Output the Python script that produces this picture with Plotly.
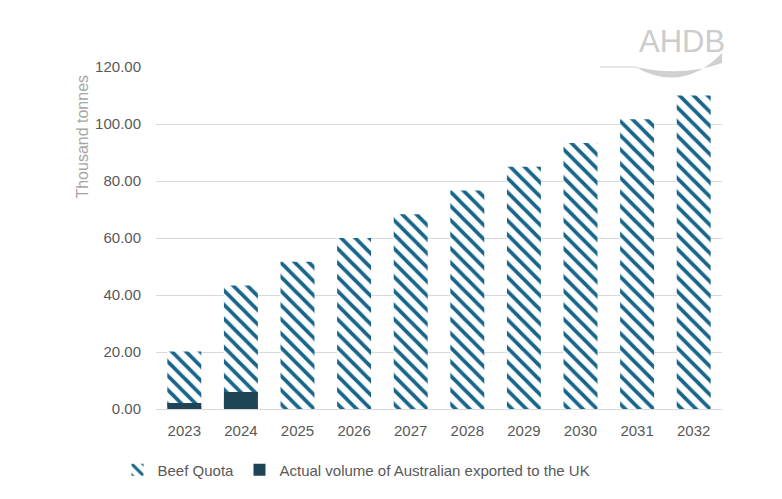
import plotly.graph_objects as go

years = ["2023", "2024", "2025", "2026", "2027", "2028", "2029", "2030", "2031", "2032"]
beef_quota = [20.2, 43.33, 51.67, 60.0, 68.33, 76.67, 85.0, 93.33, 101.67, 110.0]
actual_volume = [2.1, 6.0, None, None, None, None, None, None, None, None]

fig = go.Figure()
fig.add_trace(go.Bar(
    x=years, y=beef_quota, name="Beef Quota", legend="legend",
    marker=dict(color="white", line=dict(width=0),
                pattern=dict(shape="\\", fgcolor="#17658A", bgcolor="white",
                             size=10, solidity=0.38, fillmode="replace")),
))
fig.add_trace(go.Bar(
    x=years, y=actual_volume, name="Actual volume of Australian exported to the UK",
    legend="legend2",
    marker=dict(color="#1F4455", line=dict(width=0)),
))

leg_common = dict(orientation="h", xanchor="left", y=-0.13, yanchor="top",
                  font=dict(size=15, color="#595959"), bgcolor="rgba(0,0,0,0)")

fig.update_layout(
    width=782, height=499,
    barmode="overlay", bargap=0.4,
    plot_bgcolor="white", paper_bgcolor="white",
    margin=dict(l=156, r=60, t=67, b=88),
    font=dict(family="Liberation Sans, Arial", size=15, color="#595959"),
    showlegend=True,
    legend=dict(x=-0.068, **leg_common),
    legend2=dict(x=0.1475, **leg_common),
    yaxis=dict(range=[0, 120], dtick=20, tickformat=".2f", showgrid=True,
               gridcolor="#D9D9D9", gridwidth=1, zeroline=False,
               ticks="", ticklabelstandoff=14),
    xaxis=dict(showline=True, linecolor="#D9D9D9", linewidth=1, ticks="",
               ticklabelstandoff=8),
)

# y-axis title
fig.add_annotation(xref="paper", yref="paper", x=(83 - 156) / 566, y=1 + (67 - 137) / 344,
                   text="Thousand tonnes", textangle=-90, showarrow=False,
                   xanchor="center", yanchor="middle",
                   font=dict(family="Liberation Sans, Arial", size=16, color="#A6A6A6"))

# AHDB logo (decorative)
fig.add_annotation(xref="paper", yref="paper", x=(682 - 156) / 566, y=1 + (67 - 41) / 344,
                   xanchor="center", yanchor="middle",
                   text="AHDB", showarrow=False,
                   font=dict(family="Liberation Sans Narrow, Liberation Sans, Arial", size=31,
                             color="#CCCCCC"))
fig.add_shape(type="path", xref="paper", yref="paper",
              path="M 0.847 1.0 Q 0.93 0.922 1.0 1.041 L 1.0 1.012 Q 0.93 0.97 0.847 1.0 Z",
              fillcolor="#D0D0D0", line=dict(width=0))
fig.add_shape(type="line", xref="paper", yref="paper",
              x0=0.784, x1=0.85, y0=1.0, y1=1.0,
              line=dict(color="#D0D0D0", width=1))

fig.write_html("out.html")
